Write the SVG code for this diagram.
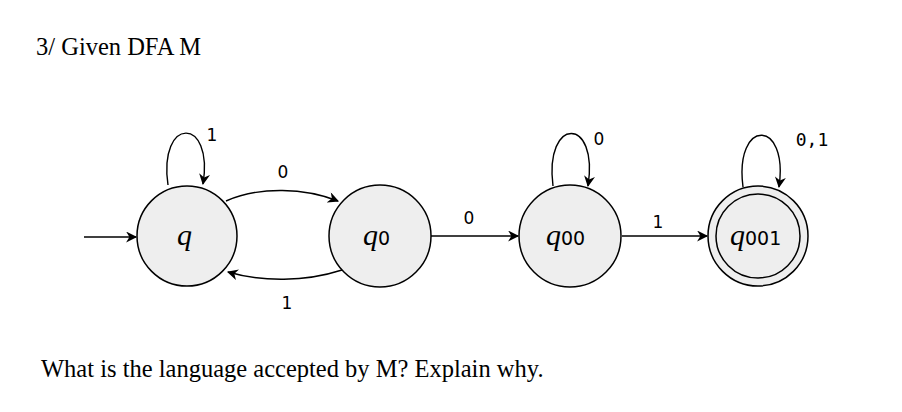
<svg xmlns="http://www.w3.org/2000/svg" width="902" height="412" viewBox="0 0 902 412">
<defs>
<marker id="ah" viewBox="0 0 10 10" refX="9" refY="5" markerWidth="12" markerHeight="11" markerUnits="userSpaceOnUse" orient="auto"><path d="M0,0 L10,5 L0,10 L3,5 Z" fill="#000"/></marker>
</defs>
<style>
.st{fill:#eeeeee;stroke:#000;stroke-width:1.5}
.e{fill:none;stroke:#000;stroke-width:1.4;marker-end:url(#ah)}
.lb{font-family:"DejaVu Sans",sans-serif;font-size:17px;text-anchor:middle}
.mono{font-family:"DejaVu Sans Mono",monospace;font-size:18px;text-anchor:middle}
.sn{font-family:"Liberation Serif",serif;font-style:italic;font-size:30px}
.sub{font-family:"DejaVu Sans",sans-serif;font-size:19px;font-style:normal}
.tx{font-family:"Liberation Serif",serif;font-size:24.5px}
</style>
<rect width="902" height="412" fill="#fff"/>
<text class="tx" x="36" y="55">3/ Given  DFA M</text>
<text class="tx" x="41" y="377">What is the language accepted by M? Explain why.</text>
<g id="connectors">
<path class="e" d="M84,237 L136,237"/>
<path class="e" d="M168,185 C158,116 214,116 203,184"/>
<path class="e" d="M226,201 C260,186 305,188 338,201"/>
<path class="e" d="M342,270 C305,282 262,282 228,272"/>
<path class="e" d="M431,236 L518,236"/>
<path class="e" d="M553,186 C544,116 599,116 588,186"/>
<path class="e" d="M622,236 L707,236"/>
<path class="e" d="M743,187 C734,118 789,118 779,187"/>
<text class="lb" x="212" y="141">1</text>
<text class="lb" x="283" y="178">0</text>
<text class="lb" x="287" y="309">1</text>
<text class="lb" x="469" y="224">0</text>
<text class="lb" x="599" y="145">0</text>
<text class="lb" x="658" y="228">1</text>
<text class="mono" x="812" y="146">0,1</text>
</g>
<g id="q"><circle class="st" cx="187" cy="236" r="50"/><text class="sn" x="177" y="245">q</text></g>
<g id="q0"><circle class="st" cx="380" cy="236" r="51"/><text class="sn" x="363" y="245">q<tspan class="sub">0</tspan></text></g>
<g id="q00"><circle class="st" cx="570" cy="236" r="51"/><text class="sn" x="546" y="245">q<tspan class="sub">00</tspan></text></g>
<g id="q001"><circle class="st" cx="758" cy="236" r="50"/><circle class="st" cx="758" cy="236" r="42"/><text class="sn" x="730" y="245">q<tspan class="sub">001</tspan></text></g>
</svg>
